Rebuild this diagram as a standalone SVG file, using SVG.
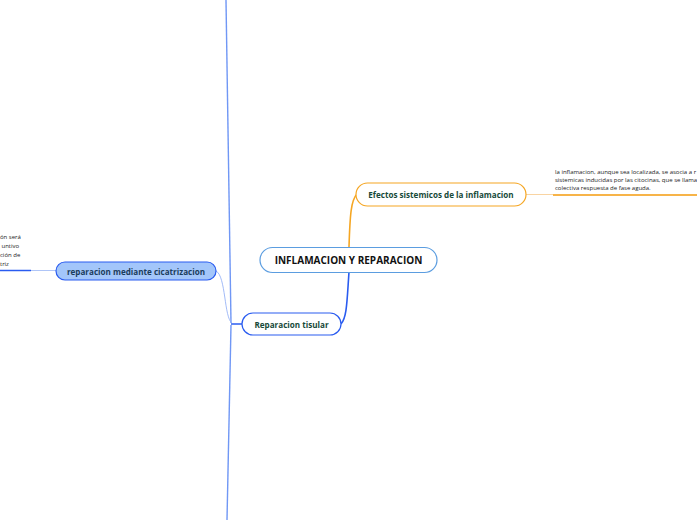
<svg xmlns="http://www.w3.org/2000/svg" width="697" height="520" viewBox="0 0 697 520">
<style>
.node{fill:#fff;stroke-width:1.2}
.t{font-family:"Open Sans","Noto Sans",sans-serif;font-weight:bold;text-anchor:middle;dominant-baseline:central}
.g{fill:#174a3a}
.body{font-family:"Open Sans","Noto Sans",sans-serif;font-size:6px;fill:#222}
.c{fill:none}
</style>
<rect width="697" height="520" fill="#fff"/>
<g id="connectors">
<path class="c" d="M349 247 C350 215 351 200 357 194" stroke="#f5a623" stroke-width="1.6"/>
<path class="c" d="M526 194.5 L553 194.5" stroke="#f8c98a" stroke-width="0.8"/>
<path class="c" d="M553 195 L697 195" stroke="#f59b0c" stroke-width="1.5"/>
<path class="c" d="M349 272 C347 300 347 318 341 324" stroke="#2a5cf0" stroke-width="1.6"/>
<path class="c" d="M242 324 L231 324" stroke="#2a5cf0" stroke-width="1.5"/>
<path class="c" d="M231 323 C229 200 227 100 226 0" stroke="#7097f5" stroke-width="1.4"/>
<path class="c" d="M231 325 C229 400 228 460 227 520" stroke="#7097f5" stroke-width="1.4"/>
<path class="c" d="M216 271 C226 276 224 318 232 323" stroke="#8aaaf5" stroke-width="0.8"/>
<path class="c" d="M31 270.5 L56 270.5" stroke="#9ab6f5" stroke-width="0.8"/>
<path class="c" d="M0 270.5 L31 270.5" stroke="#2a5cf0" stroke-width="1.5"/>
</g>
<g id="central">
<rect class="node" x="260" y="247.5" width="177" height="25" rx="12.5" stroke="#5b9de0"/>
<text class="t" x="348.5" y="260" font-size="10" fill="#111">INFLAMACION Y REPARACION</text>
</g>
<g id="efectos">
<rect class="node" x="356" y="183" width="170" height="23" rx="11.5" stroke="#f5a623"/>
<text class="t g" x="441" y="194.5" font-size="8.1">Efectos sistemicos de la inflamacion</text>
</g>
<g id="efectos-text">
<text class="body" x="555" y="174">la inflamacion, aunque sea localizada, se asocia a r</text>
<text class="body" x="555" y="182">sistemicas inducidas por las citocinas, que se llama</text>
<text class="body" x="555" y="190">colectiva respuesta de fase aguda.</text>
</g>
<g id="tisular">
<rect class="node" x="242" y="313" width="99" height="22" rx="11" stroke="#2a5cf0"/>
<text class="t g" x="291.5" y="324" font-size="8.1">Reparacion tisular</text>
</g>
<g id="cicatrizacion">
<rect x="56" y="262" width="160" height="18" rx="9" fill="#a3c6fa" stroke="#2a5cf0" stroke-width="1.2"/>
<text class="t" x="136" y="271" font-size="8.1" fill="#1b3d5c">reparacion mediante cicatrizacion</text>
</g>
<g id="cicatrizacion-text">
<text class="body" x="0" y="239">ón será</text>
<text class="body" x="1.5" y="248">untivo</text>
<text class="body" x="0" y="257">ción de</text>
<text class="body" x="0" y="266">triz</text>
</g>
</svg>
